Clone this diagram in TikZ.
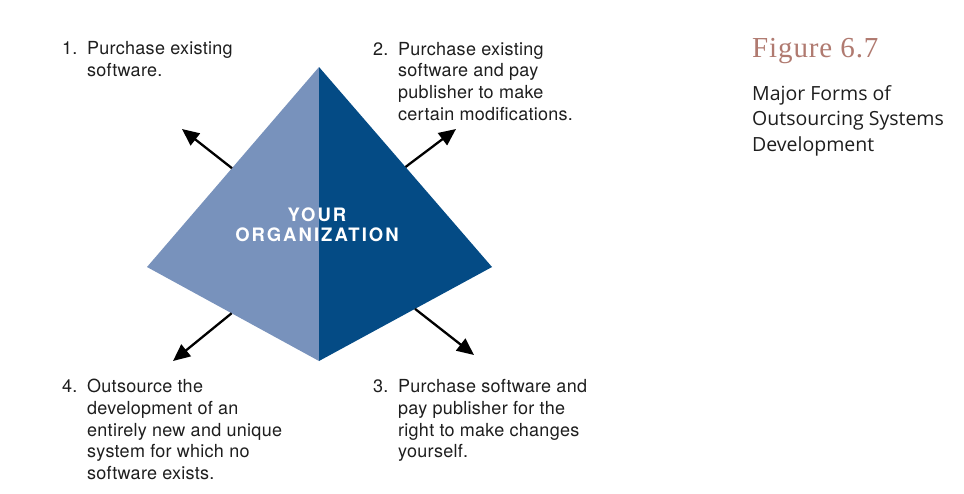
\documentclass[tikz,border=0pt]{standalone}
\usepackage{fontspec}
\setmainfont{TeX Gyre Heros}
\newfontfamily\capfont{Open Sans}
\newfontfamily\figfont[LetterSpace=3]{Liberation Serif}
\newfontfamily\itemfont[LetterSpace=1.5]{TeX Gyre Heros}
\newfontfamily\orgfont[LetterSpace=11]{TeX Gyre Heros}
\usetikzlibrary{arrows.meta,calc}
\definecolor{lightblue}{RGB}{120,146,188}
\definecolor{darkblue}{RGB}{4,75,133}
\definecolor{figred}{RGB}{176,122,112}
\definecolor{textblack}{RGB}{30,30,30}
\tikzset{
  itemlabel/.style={anchor=base west, inner sep=0pt, text=textblack,
    font=\itemfont\fontsize{18}{21.7}\selectfont},
  outarrow/.style={line width=2.3pt, -{Triangle[length=17pt,width=15pt]}},
  caption/.style={anchor=base west, inner sep=0pt, text=textblack, align=left,
    font=\capfont\fontsize{19.5}{25.8}\selectfont}
}
\newcommand{\itembox}[2]{\begin{tabular}[t]{@{}p{25pt}@{}l@{}}#1 & #2\end{tabular}}
\begin{document}
\begin{tikzpicture}[x=1pt,y=-1pt]
\useasboundingbox (0,0) rectangle (964,493);
% diamond vertices
\coordinate (top) at (319,67);
\coordinate (left) at (147,267);
\coordinate (right) at (492,267);
\coordinate (bottom) at (319,361);
\fill[lightblue] (top) -- (left) -- (bottom) -- cycle;
\fill[darkblue] (top) -- (right) -- (bottom) -- cycle;
\node[inner sep=0pt, text=white, align=center, font=\orgfont\bfseries\fontsize{18.5}{20}\selectfont]
  (org) at (317,225) {YOUR\\ORGANIZATION};
% arrow starts on the edges
\coordinate (s1) at ($(top)!0.506!(left)$);
\coordinate (s2) at ($(top)!0.50!(right)$);
\coordinate (s3) at ($(right)!0.445!(bottom)$);
\coordinate (s4) at ($(left)!0.492!(bottom)$);
\coordinate (e1) at (182,129);
\coordinate (e2) at (456,129);
\coordinate (e3) at (474,355);
\coordinate (e4) at (173,361);
\draw[outarrow] (s1) -- (e1);
\draw[outarrow] (s2) -- (e2);
\draw[outarrow] (s3) -- (e3);
\draw[outarrow] (s4) -- (e4);
% labels
\node[itemlabel] (i1) at (62,54.3) {\itembox{1.}{Purchase existing\\ & software.}};
\node[itemlabel] (i2) at (373,55) {\itembox{2.}{Purchase existing\\ & software and pay\\ & publisher to make\\ & certain modifications.}};
\node[itemlabel] (i3) at (373,392.7) {\itembox{3.}{Purchase software and\\ & pay publisher for the\\ & right to make changes\\ & yourself.}};
\node[itemlabel] (i4) at (62,392.7) {\itembox{4.}{Outsource the\\ & development of an\\ & entirely new and unique\\ & system for which no\\ & software exists.}};
% caption
\node[anchor=base west, inner sep=0pt, text=figred, font=\figfont\fontsize{29}{32}\selectfont]
  (fig) at (752,57.3) {Figure 6.7};
\node[caption] (cap) at (752,151.7) {Major Forms of\\Outsourcing Systems\\Development};
\end{tikzpicture}
\end{document}
